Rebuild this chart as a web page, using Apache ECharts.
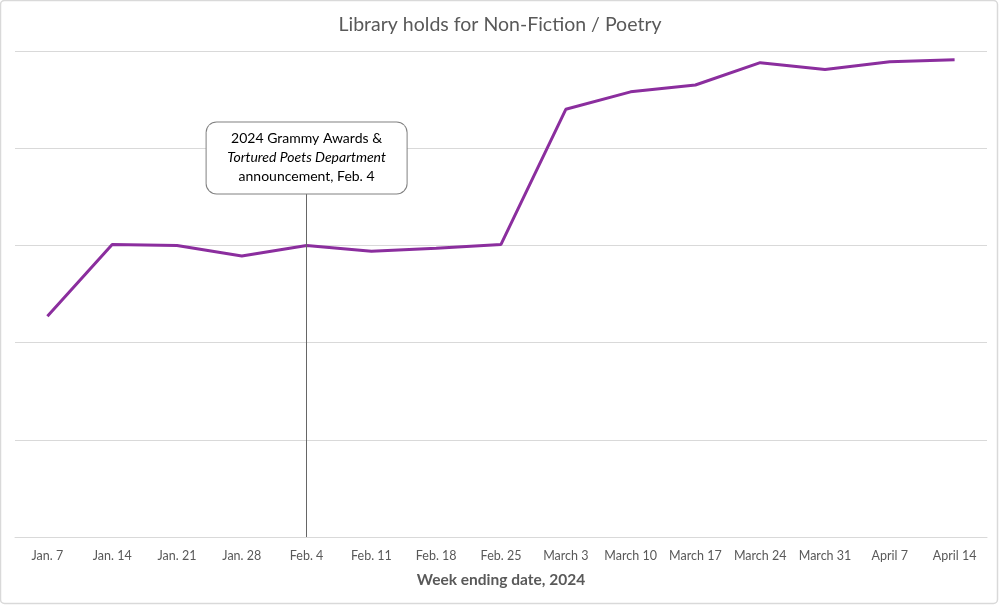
<!DOCTYPE html>
<html>
<head>
<meta charset="utf-8">
<script src="https://cdn.jsdelivr.net/npm/echarts@6/dist/echarts.min.js"></script>
<style>html,body{margin:0;padding:0;background:#fff}#c{width:1000px;height:605px}</style>
</head>
<body>
<div id="c"></div>
<script>
var categories = ['Jan. 7','Jan. 14','Jan. 21','Jan. 28','Feb. 4','Feb. 11','Feb. 18','Feb. 25','March 3','March 10','March 17','March 24','March 31','April 7','April 14'];
var holds = [227, 301, 300, 289, 300, 294, 297, 301, 440, 458, 465, 488, 481, 489, 491];
var yTicks = [0, 100, 200, 300, 400, 500];
var annotationCategory = 'Feb. 4';
var annotationLineTop = 354;
var annotationBoxCenter = 390;

var chart = echarts.init(document.getElementById('c'));
var ff = 'Lato, "Open Sans", sans-serif';
chart.setOption({
  animation: false,
  backgroundColor: '#fff',
  textStyle: { fontFamily: ff },
  title: {
    text: 'Library holds for Non-Fiction / Poetry',
    left: 'center', top: 10,
    textStyle: { fontFamily: ff, fontSize: 19.5, fontWeight: 'normal', color: '#595959' }
  },
  graphic: [{
    type: 'rect', shape: { x: 0.5, y: 0.5, width: 997, height: 603, r: 4 },
    style: { fill: 'none', stroke: '#d9d9d9', lineWidth: 1.5 }, silent: true
  }],
  grid: { left: 15, right: 13, top: 51, bottom: 68 },
  xAxis: {
    type: 'category', data: categories, boundaryGap: true,
    axisLine: { lineStyle: { color: '#d9d9d9', width: 1 } },
    axisTick: { show: false },
    axisLabel: { color: '#595959', fontSize: 12.5, margin: 12, interval: 0 },
    name: 'Week ending date, 2024', nameLocation: 'middle', nameGap: 35,
    nameTextStyle: { color: '#595959', fontSize: 15.5, fontWeight: 'bold', fontFamily: ff }
  },
  yAxis: {
    type: 'value', min: yTicks[0], max: yTicks[yTicks.length - 1], interval: 100,
    axisLabel: { show: false }, axisLine: { show: false }, axisTick: { show: false },
    splitLine: { lineStyle: { color: '#d9d9d9', width: 1 } }
  },
  series: [{
    type: 'line', data: holds, symbol: 'none',
    lineStyle: { color: '#8b2e9e', width: 3 },
    itemStyle: { color: '#8b2e9e' },
    z: 3,
    markLine: {
      silent: true, symbol: ['none', 'none'],
      lineStyle: { color: '#666', width: 1, type: 'solid' },
      label: { show: false },
      data: [[{ coord: [annotationCategory, annotationLineTop] }, { coord: [annotationCategory, yTicks[0]] }]]
    },
    markPoint: {
      silent: true, symbol: 'rect', symbolSize: 1,
      itemStyle: { color: 'rgba(0,0,0,0)' },
      data: [{
        coord: [annotationCategory, annotationBoxCenter],
        label: {
          show: true, position: 'inside',
          formatter: '2024 Grammy Awards &\n{i|Tortured Poets Department}\nannouncement, Feb. 4',
          color: '#000', fontSize: 14, lineHeight: 19, fontFamily: ff, align: 'center',
          width: 180,
          backgroundColor: '#fff', borderColor: '#808080', borderWidth: 1, borderRadius: 10,
          padding: [7, 10],
          rich: { i: { fontStyle: 'italic', fontSize: 14, lineHeight: 19, color: '#000', fontFamily: ff } }
        }
      }]
    }
  }]
});
</script>
</body>
</html>
